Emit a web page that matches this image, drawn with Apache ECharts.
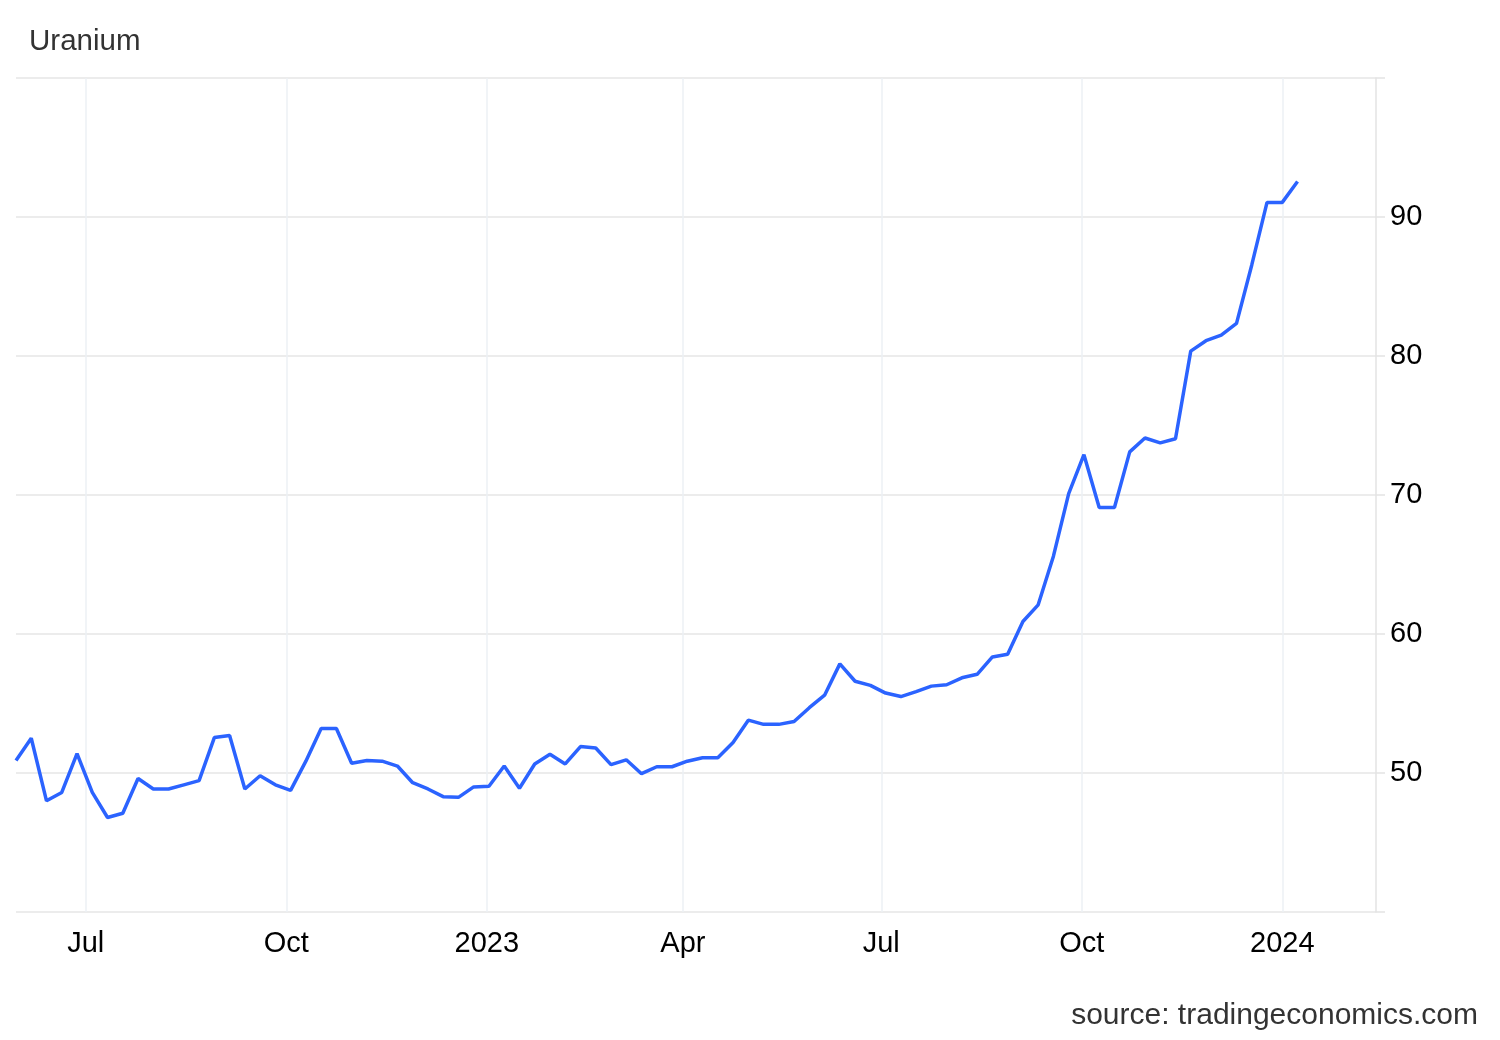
<!DOCTYPE html>
<html>
<head>
<meta charset="utf-8">
<style>
  html, body { margin: 0; padding: 0; background: #ffffff; }
  #chart { width: 1500px; height: 1040px; }
</style>
<script src="https://cdn.jsdelivr.net/npm/echarts@6/dist/echarts.min.js"></script>
</head>
<body>
<div id="chart"></div>
<script>
// ---- data (weekly, Mondays) ----
const dates = [
  '2022-05-30','2022-06-06','2022-06-13','2022-06-20','2022-06-27',
  '2022-07-04','2022-07-11','2022-07-18','2022-07-25',
  '2022-08-01','2022-08-08','2022-08-15','2022-08-22','2022-08-29',
  '2022-09-05','2022-09-12','2022-09-19','2022-09-26',
  '2022-10-03','2022-10-10','2022-10-17','2022-10-24','2022-10-31',
  '2022-11-07','2022-11-14','2022-11-21','2022-11-28',
  '2022-12-05','2022-12-12','2022-12-19','2022-12-26',
  '2023-01-02','2023-01-09','2023-01-16','2023-01-23','2023-01-30',
  '2023-02-06','2023-02-13','2023-02-20','2023-02-27',
  '2023-03-06','2023-03-13','2023-03-20','2023-03-27',
  '2023-04-03','2023-04-10','2023-04-17','2023-04-24',
  '2023-05-01','2023-05-08','2023-05-15','2023-05-22','2023-05-29',
  '2023-06-05','2023-06-12','2023-06-19','2023-06-26',
  '2023-07-03','2023-07-10','2023-07-17','2023-07-24','2023-07-31',
  '2023-08-07','2023-08-14','2023-08-21','2023-08-28',
  '2023-09-04','2023-09-11','2023-09-18','2023-09-25',
  '2023-10-02','2023-10-09','2023-10-16','2023-10-23','2023-10-30',
  '2023-11-06','2023-11-13','2023-11-20','2023-11-27',
  '2023-12-04','2023-12-11','2023-12-18','2023-12-25',
  '2024-01-01','2024-01-08'
];
const uraniumPrice = [
  50.9, 52.5, 48.0, 48.6, 51.4,
  48.6, 46.8, 47.1, 49.6,
  48.85, 48.85, 49.15, 49.45, 52.55,
  52.7, 48.85, 49.8, 49.15,
  48.75, 50.85, 53.2, 53.2, 50.7,
  50.9, 50.85, 50.5, 49.3,
  48.85, 48.3, 48.25, 49.0,
  49.05, 50.5, 48.9, 50.65, 51.35,
  50.65, 51.9, 51.8, 50.6,
  50.95, 49.95, 50.45, 50.45,
  50.85, 51.1, 51.1, 52.2,
  53.8, 53.5, 53.5, 53.7, 54.7,
  55.6, 57.85, 56.6, 56.3,
  55.75, 55.5, 55.85, 56.25, 56.35,
  56.85, 57.1, 58.35, 58.55,
  60.9, 62.1, 65.6, 70.1,
  72.9, 69.1, 69.1, 73.1, 74.1,
  73.75, 74.05, 80.35, 81.1,
  81.5, 82.35, 86.55, 91.05,
  91.05, 92.55
];
const xTickDates  = ['2022-07-01','2022-10-01','2023-01-01','2023-04-01','2023-07-01','2023-10-01','2024-01-01'];
const xTickLabels = ['Jul','Oct','2023','Apr','Jul','Oct','2024'];
const xRange = ['2022-05-30', '2024-02-13'];
const yTickValues = [50, 60, 70, 80, 90];
const yRange = [40, 100];
const titleText = 'Uranium';
const sourceText = 'source: tradingeconomics.com';

// ---- chart ----
const toTime = s => Date.parse(s + 'T00:00:00Z');
const xTicks = xTickDates.map(toTime);
const seriesData = dates.map((d, i) => [toTime(d), uraniumPrice[i]]);
const FONT = "Arial, 'Liberation Sans', sans-serif";

const chart = echarts.init(document.getElementById('chart'), null, { renderer: 'canvas' });
chart.setOption({
  animation: false,
  backgroundColor: '#ffffff',
  title: [
    { text: titleText, left: 24, top: 22,
      textStyle: { fontFamily: FONT, fontSize: 29.5, fontWeight: 'normal', color: '#333333' } },
    { text: sourceText, right: 17, top: 996,
      textStyle: { fontFamily: FONT, fontSize: 30, fontWeight: 'normal', color: '#333333' } }
  ],
  grid: { left: 16, right: 124, top: 78, bottom: 128, containLabel: false },
  xAxis: {
    type: 'value',
    scale: true,
    min: toTime(xRange[0]),
    max: toTime(xRange[1]),
    axisLine: { show: false },
    axisTick: { show: false, customValues: xTicks },
    axisLabel: {
      customValues: xTicks,
      margin: 17,
      fontFamily: FONT, fontSize: 29, color: '#000000',
      formatter: function (v) {
        let best = 0, bd = Infinity;
        xTicks.forEach((t, i) => { const d = Math.abs(t - v); if (d < bd) { bd = d; best = i; } });
        return xTickLabels[best];
      }
    },
    splitLine: { show: true, lineStyle: { color: '#edf0f4', width: 1.5 } }
  },
  yAxis: {
    type: 'value',
    position: 'right',
    min: yRange[0], max: yRange[1], interval: 10,
    axisLine: { show: true, lineStyle: { color: '#e3e3e3', width: 1.5 } },
    axisTick: { show: true, inside: false, length: 9, lineStyle: { color: '#e3e3e3', width: 1.5 } },
    axisLabel: {
      margin: 14,
      fontFamily: FONT, fontSize: 29, color: '#000000',
      formatter: function (v) { return yTickValues.indexOf(v) >= 0 ? String(v) : ''; }
    },
    splitLine: { show: true, lineStyle: { color: '#e6e6e6', width: 1.5 } }
  },
  series: [{
    type: 'line',
    name: titleText,
    data: seriesData,
    showSymbol: false,
    symbol: 'none',
    lineStyle: { color: '#2b63ff', width: 3.5 },
    itemStyle: { color: '#2b63ff' },
    clip: true
  }]
});
</script>
</body>
</html>
